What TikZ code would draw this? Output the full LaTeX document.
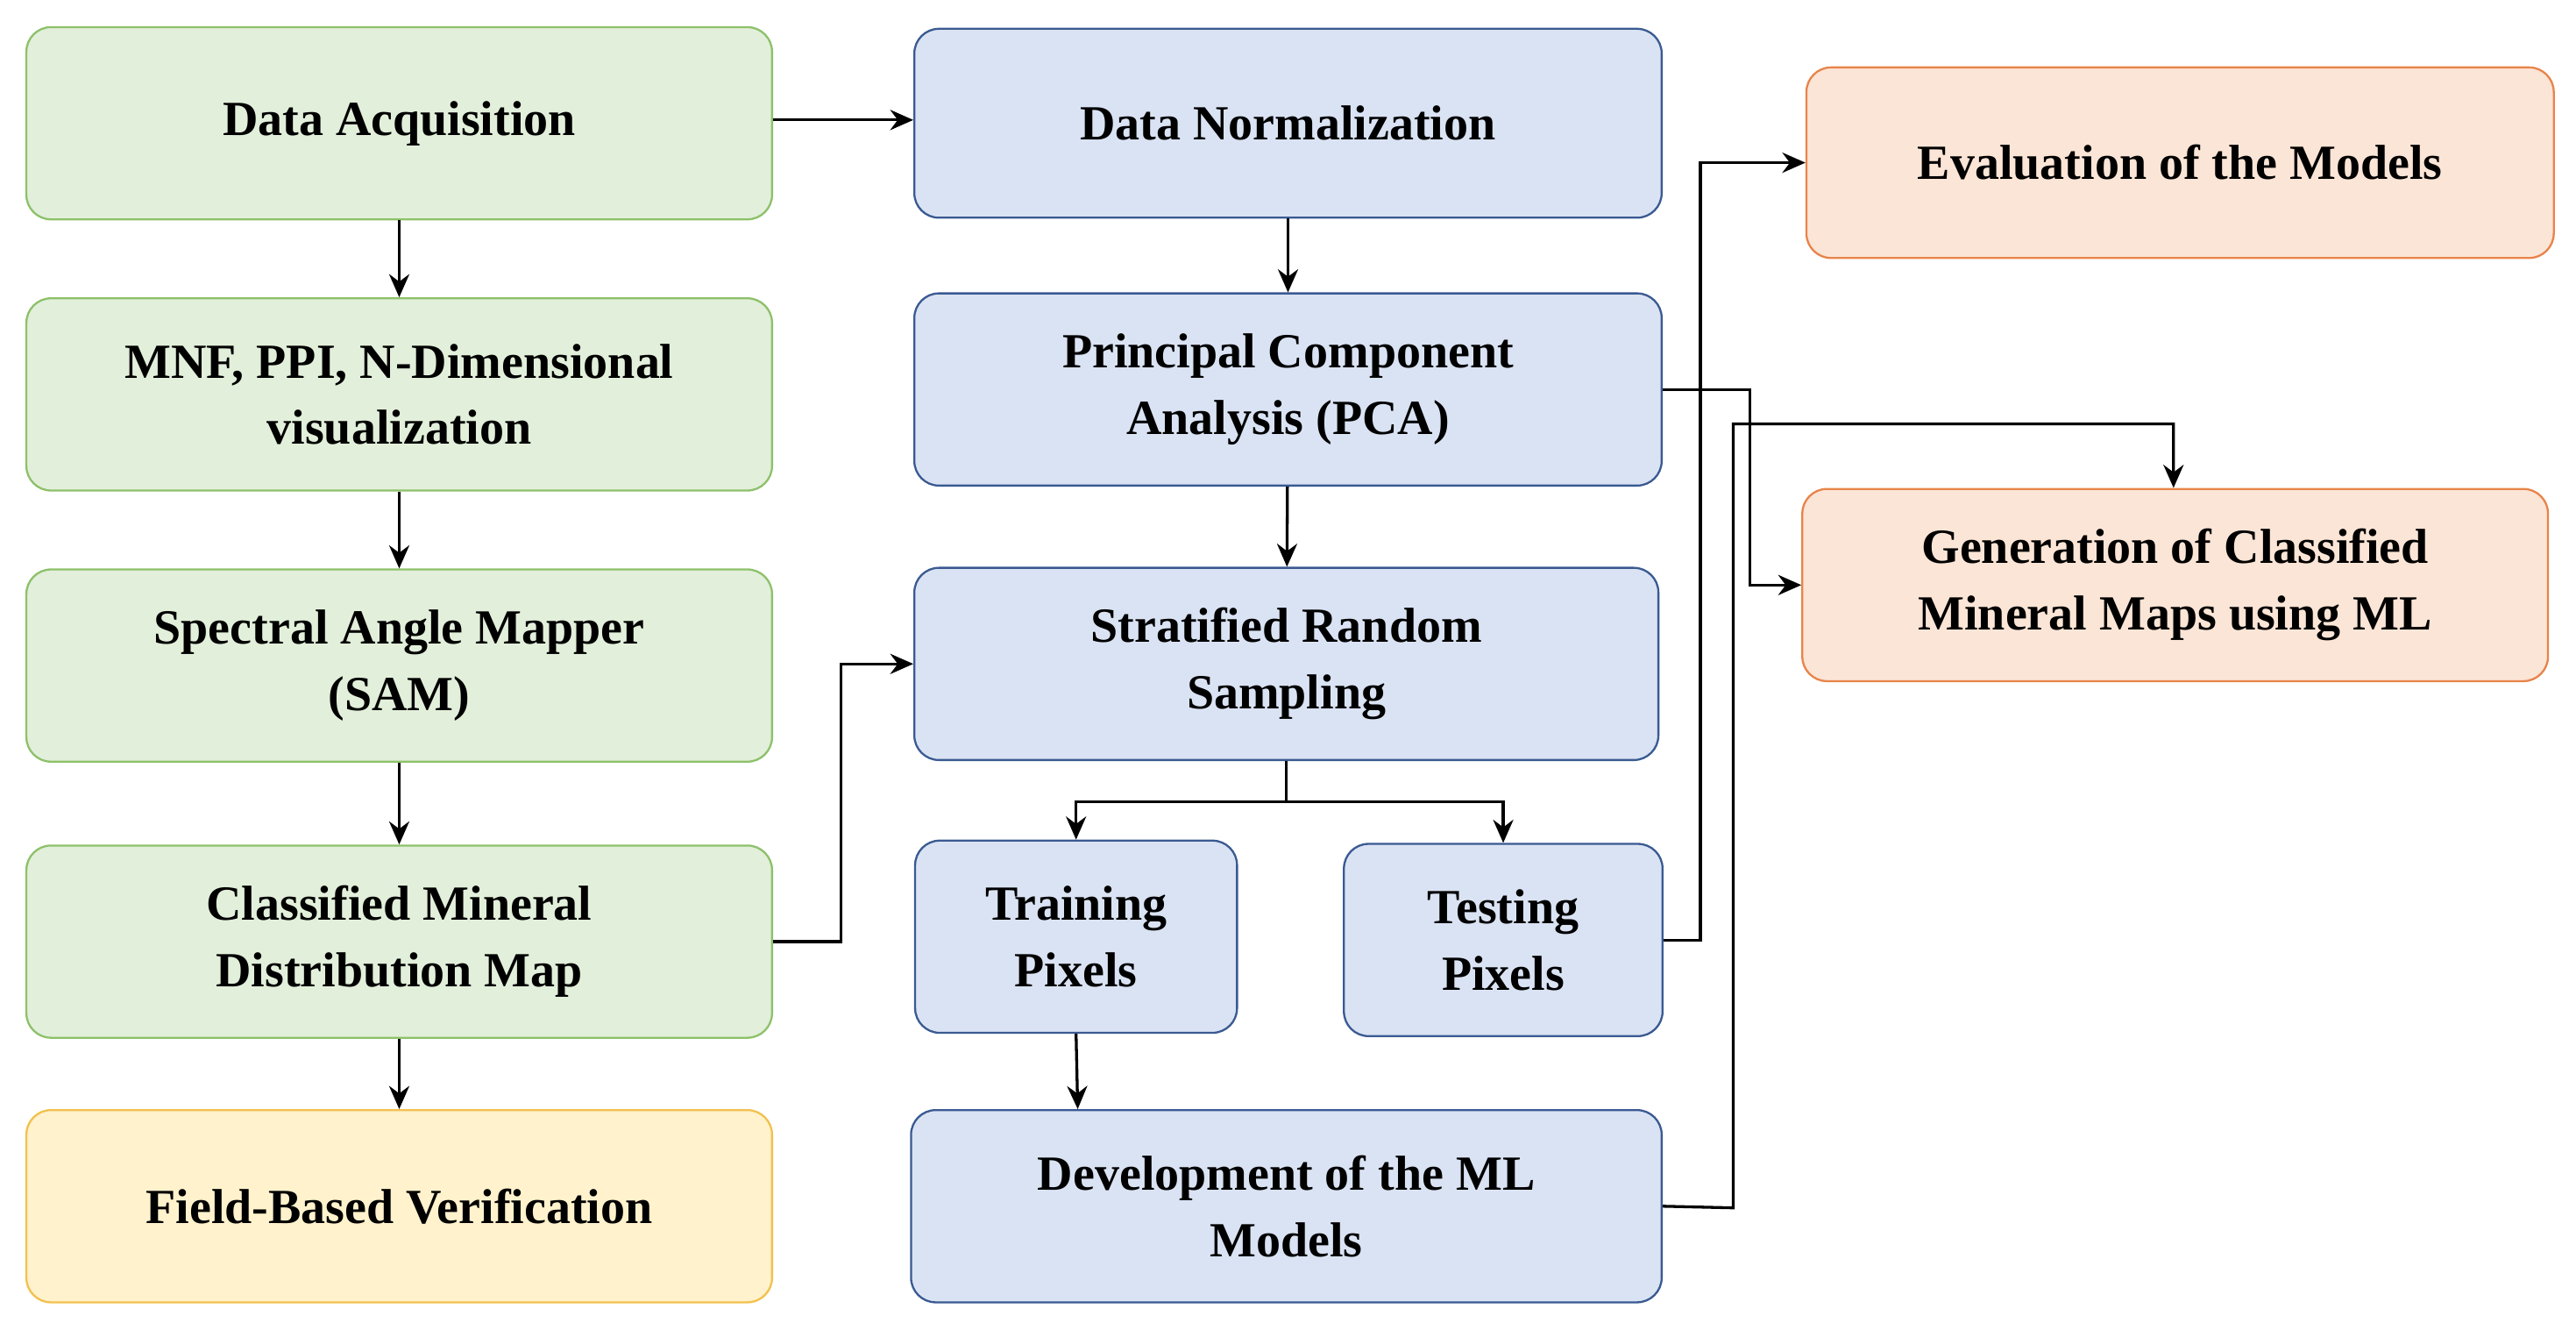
\documentclass[tikz,border=0pt]{standalone}
\usepackage{fontspec}
\setmainfont{Liberation Serif}
\usetikzlibrary{arrows.meta}
\definecolor{gfill}{HTML}{E2EFDA}\definecolor{gdraw}{HTML}{8DC16A}
\definecolor{bfill}{HTML}{DAE3F3}\definecolor{bdraw}{HTML}{3A5A92}
\definecolor{ofill}{HTML}{FBE5D6}\definecolor{odraw}{HTML}{E8844A}
\definecolor{yfill}{HTML}{FFF2CC}\definecolor{ydraw}{HTML}{F2C14E}
\tikzset{
  box/.style={draw, rounded corners=0.3cm, line width=0.7pt, align=center,
    font=\fontsize{17}{23}\selectfont\bfseries, inner sep=0pt,
    minimum height=2.34cm},
  green/.style={box, fill=gfill, draw=gdraw},
  blue/.style={box, fill=bfill, draw=bdraw},
  orange/.style={box, fill=ofill, draw=odraw},
  yellow/.style={box, fill=yfill, draw=ydraw},
  arr/.style={-{Stealth[length=8pt,width=7pt]}, line width=1pt},
}
\begin{document}
\begin{tikzpicture}[x=0.02cm,y=-0.02cm]
\useasboundingbox (0,0) rectangle (1568,809);
% left column
\node[green, minimum width=9.08cm] (da) at (243,75) {Data Acquisition};
\node[green, minimum width=9.08cm] (mnf) at (243,240) {MNF, PPI, N-Dimensional\\visualization};
\node[green, minimum width=9.08cm] (sam) at (243,405) {Spectral Angle Mapper\\(SAM)};
\node[green, minimum width=9.08cm] (cmd) at (243,573) {Classified Mineral\\Distribution Map};
\node[yellow, minimum width=9.08cm] (fbv) at (243,734) {Field-Based Verification};
% middle column
\node[blue, minimum width=9.1cm, minimum height=2.3cm] (dn) at (784,75) {Data Normalization};
\node[blue, minimum width=9.1cm] (pca) at (784,237) {Principal Component\\Analysis (PCA)};
\node[blue, minimum width=9.06cm] (srs) at (783,404) {Stratified Random\\Sampling};
\node[blue, minimum width=3.92cm] (tr) at (655,570) {Training\\Pixels};
\node[blue, minimum width=3.88cm] (te) at (915,572) {Testing\\Pixels};
\node[blue, minimum width=9.14cm] (dev) at (783,734) {Development of the ML\\Models};
% right column
\node[orange, minimum width=9.1cm, minimum height=2.32cm] (eval) at (1327,99) {Evaluation of the Models};
\node[orange, minimum width=9.08cm] (gen) at (1324,356) {Generation of Classified\\Mineral Maps using ML};
% connectors
\draw[arr] (da.east |- 0,73) -- (dn.west |- 0,73);
\draw[arr] (da) -- (mnf);
\draw[arr] (mnf) -- (sam);
\draw[arr] (sam) -- (cmd);
\draw[arr] (cmd) -- (fbv);
\draw[arr] (cmd.east) -- (512,573) |- (srs.west);
\draw[arr] (dn) -- (pca);
\draw[arr] (pca) -- (srs);
\draw[arr] (srs.south) -- (783,488) -| (tr.north);
\draw[arr] (783,488) -| (te.north);
\draw[arr] (tr.south) -- (dev.north -| 656,0);
\draw[arr] (te.east) -- (1035,572) |- (eval.west);
\draw[arr] (pca.east) -- (1065,237) |- (gen.west);
\draw[arr] (dev.east) -- (1055,735) |- (1323,258) -- (gen.north -| 1323,0);
\end{tikzpicture}
\end{document}
